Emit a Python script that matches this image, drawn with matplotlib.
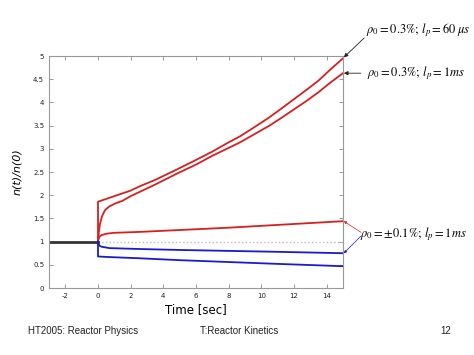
import numpy as np
import matplotlib.pyplot as plt

plt.rcParams['mathtext.fontset'] = 'stix'
plt.rcParams['axes.unicode_minus'] = False

# values
t_before = [-3, 0]
n_before = [1, 1]

t_fast = [0, 0, 0.5, 1.0, 1.5, 2.0, 2.6, 3.5, 4.8, 6.0, 7.0, 8.0, 8.7, 9.5,
          10.5, 11.2, 12.0, 12.8, 13.5, 14.2, 15]
n_fast = [1, 1.86, 1.92, 1.98, 2.04, 2.10, 2.20, 2.33, 2.55, 2.76, 2.94, 3.14,
          3.27, 3.45, 3.68, 3.86, 4.07, 4.28, 4.47, 4.70, 4.95]

t_slow = [0, 0.05, 0.12, 0.25, 0.43, 0.7, 1.04, 1.5, 2.0, 2.6, 3.5, 4.8, 6.0,
          7.0, 8.0, 8.7, 9.5, 10.5, 11.2, 12.0, 12.8, 13.5, 14.2, 15]
n_slow = [1, 1.2, 1.38, 1.55, 1.68, 1.76, 1.82, 1.88, 1.98, 2.08, 2.23, 2.46,
          2.66, 2.85, 3.02, 3.14, 3.30, 3.50, 3.66, 3.85, 4.04, 4.22, 4.42, 4.63]

t_pos = [0, 0.03, 0.1, 0.22, 0.5, 1.0, 2.6, 5.0, 8.0, 11.0, 15]
n_pos = [1, 1.06, 1.11, 1.14, 1.17, 1.19, 1.21, 1.25, 1.30, 1.36, 1.44]

t_neg = [0, 0.03, 0.1, 0.22, 0.7, 2.6, 5.0, 8.0, 11.0, 15]
n_neg = [1, 0.95, 0.91, 0.89, 0.86, 0.84, 0.82, 0.80, 0.78, 0.75]

t_neg2 = [0, 0, 0.5, 2.6, 5.0, 8.0, 11.0, 15]
n_neg2 = [1, 0.68, 0.67, 0.64, 0.60, 0.56, 0.52, 0.47]

fig = plt.figure(figsize=(4.74, 3.55), dpi=100)
ax = fig.add_axes([0.1034, 0.1887, 0.6202, 0.6535])

ax.plot([0, 15], [1, 1], color='#bbbbbb', lw=1.0, ls=':')
ax.plot(t_before, n_before, color='#333333', lw=2.0)
ax.plot(t_fast, n_fast, color='#d42020', lw=1.3)
ax.plot(t_slow, n_slow, color='#d42020', lw=1.3)
ax.plot(t_pos, n_pos, color='#d42020', lw=1.3)
ax.plot(t_neg, n_neg, color='#1a1ad0', lw=1.3)
ax.plot(t_neg2, n_neg2, color='#1a1ad0', lw=1.3)

ax.set_xlim(-3, 15)
ax.set_ylim(0, 5)
ax.set_xticks(np.arange(-2, 15, 2))
ax.set_yticks(np.arange(0, 5.01, 0.5))
ax.set_yticklabels(['0', '0.5', '1', '1.5', '2', '2.5', '3', '3.5', '4', '4.5', '5'])
ax.tick_params(direction='in', top=True, right=True, labelsize=5, length=3,
               color='#888888', labelcolor='#222222', width=0.6)
for s in ax.spines.values():
    s.set_color('#999999')
    s.set_linewidth(0.8)

ax.set_xlabel('Time [sec]', fontsize=8.5, labelpad=3)
ax.set_ylabel('n(t)/n(0)', fontsize=8, style='italic', labelpad=8)

# annotations
arr = dict(arrowstyle='-|>', lw=0.6, color='#222222', mutation_scale=6,
           shrinkA=0, shrinkB=0)
ax.annotate('', xy=(15.05, 4.97), xytext=(16.3, 5.39), arrowprops=arr,
            annotation_clip=False)
ax.text(16.4, 5.56, r'$\rho_0 = 0.3\%;\, l_p = 60\;\mu s$', fontsize=9,
        ha='left', va='center', clip_on=False)

ax.annotate('', xy=(15.05, 4.63), xytext=(16.1, 4.63), arrowprops=arr,
            annotation_clip=False)
ax.text(16.45, 4.63, r'$\rho_0 = 0.3\%;\, l_p = 1ms$', fontsize=9,
        ha='left', va='center', clip_on=False)

arr_r = dict(arr, color='#d42020', lw=0.5, mutation_scale=4)
arr_b = dict(arr, color='#1a1ad0', lw=0.5, mutation_scale=4)
ax.annotate('', xy=(15.05, 1.44), xytext=(16.1, 1.2), arrowprops=arr_r,
            annotation_clip=False)
ax.annotate('', xy=(15.05, 0.75), xytext=(16.1, 1.12), arrowprops=arr_b,
            annotation_clip=False)
ax.text(16.05, 1.16, r'$\rho_0 = \pm 0.1\%;\, l_p = 1ms$', fontsize=9,
        ha='left', va='center', clip_on=False)

# footer
fig.text(28 / 474, 1 - 331 / 355, 'HT2005: Reactor Physics', fontsize=7,
         family='Liberation Sans', va='center', color='#222222')
fig.text(200 / 474, 1 - 331 / 355, 'T:Reactor Kinetics', fontsize=7,
         family='Liberation Sans', va='center', color='#222222')
fig.text(440 / 474, 1 - 331 / 355, '12', fontsize=7,
         family='Liberation Sans', va='center', color='#222222')

fig.savefig('out.png', dpi=100)
